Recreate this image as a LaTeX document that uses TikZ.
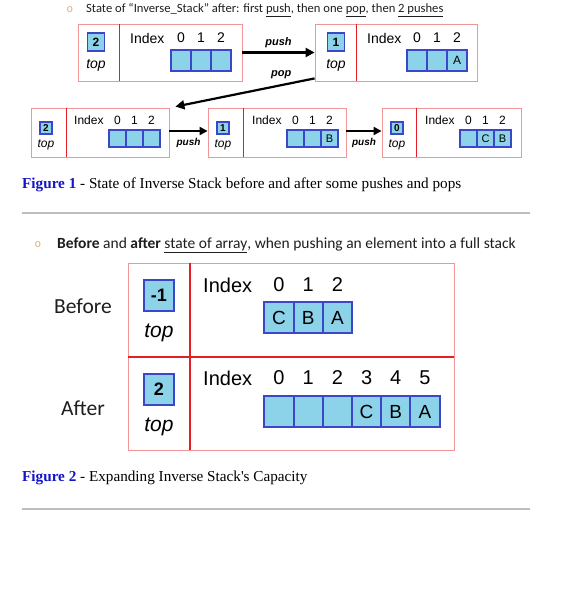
\documentclass[tikz,border=0pt]{standalone}
\usepackage{fontspec}
\setmainfont{Liberation Serif}
\setsansfont{Liberation Sans}
\setmonofont{Liberation Mono}
\newfontfamily\calibri{Carlito}
\usepackage{tikz}
\usetikzlibrary{
  arrows.meta,
  positioning,
  calc
}
\usepackage{xcolor}
\definecolor{panelpink}{RGB}{240,150,150}
\definecolor{divred}{RGB}{228,30,40}
\definecolor{cellblue}{RGB}{140,210,232}
\definecolor{cellborder}{RGB}{60,70,200}
\definecolor{figblue}{RGB}{20,20,200}
\definecolor{rulegray}{RGB}{190,190,190}
\definecolor{bullettan}{RGB}{222,172,122}
\definecolor{hdrtext}{RGB}{30,30,30}

\begin{document}
\begin{tikzpicture}[
  x=1pt, y=-1pt,
  panel/.style={draw=panelpink, line width=0.8pt, inner sep=0pt},
  divider/.style={draw=divred, line width=#1},
  topbox/.style={draw=cellborder, fill=cellblue, line width=1.3pt, inner sep=0pt, font=\sffamily\bfseries\fontsize{#1}{#1}\selectfont},
  cell/.style={draw=cellborder, fill=cellblue, line width=1.3pt, inner sep=0pt, font=\sffamily\fontsize{#1}{#1}\selectfont},
  toplbl/.style={inner sep=0pt, font=\sffamily\itshape\fontsize{#1}{#1}\selectfont},
  idx/.style={inner sep=0pt, font=\sffamily\fontsize{#1}{#1}\selectfont},
  arr/.style={-{Triangle[length=#1,width=#1]}, line width=2.2pt},
  alabel/.style={inner sep=1pt, font=\sffamily\bfseries\itshape\fontsize{#1}{#1}\selectfont},
  caption/.style={anchor=west, inner sep=0pt, font=\fontsize{15.2}{17}\selectfont},
  hdr/.style={anchor=west, inner sep=0pt, text=hdrtext, font=\calibri\fontsize{#1}{#1}\selectfont},
  bullet/.style={inner sep=0pt, text=bullettan, font=\ttfamily\fontsize{11}{11}\selectfont},
  sidelbl/.style={inner sep=0pt, text=hdrtext, font=\calibri\fontsize{21.5}{22}\selectfont},
  rule/.style={draw=rulegray, line width=2pt}
]
  \useasboundingbox (0,0) rectangle (580,603);

  % Figure 1 heading
  \node[bullet] (b1) at (70,10) {o};
  \node[hdr=12.6] (h1) at (86,10) {State of “Inverse\_Stack” after: first \underline{push}, then one \underline{pop}, then \underline{2 pushes}};

  % first row: top = 2, then push
  \node[panel, minimum width=164pt, minimum height=57pt] (s1) at (160,52.5) {};
  \draw[divider=1.2pt] ($(s1.north west)+(42,0)$) -- ($(s1.south west)+(42,0)$);
  \node[topbox=12, minimum width=17pt, minimum height=18pt] (s1top) at (96,42) {2};
  \node[toplbl=14] (s1lbl) at (96,65) {top};
  \node[idx=14, anchor=west] (s1idx) at (130,38) {Index};
  \foreach \v [count=\i from 0] in {{},{},{}} {
    \node[idx=14] (s1d\i) at (181+20*\i,38) {\i};
    \node[cell=12, minimum width=20pt, minimum height=21pt] (s1c\i) at (181+20*\i,60.5) {\v};
  }

  \node[panel, minimum width=162pt, minimum height=57pt] (s2) at (396,52.5) {};
  \draw[divider=1.2pt] ($(s2.north west)+(42,0)$) -- ($(s2.south west)+(42,0)$);
  \node[topbox=12, minimum width=17pt, minimum height=18pt] (s2top) at (336,42) {1};
  \node[toplbl=14] (s2lbl) at (336,65) {top};
  \node[idx=14, anchor=west] (s2idx) at (367,38) {Index};
  \foreach \v [count=\i from 0] in {{},{},A} {
    \node[idx=14] (s2d\i) at (417+20*\i,38) {\i};
    \node[cell=12, minimum width=20pt, minimum height=21pt] (s2c\i) at (417+20*\i,60.5) {\v};
  }

  % second row: pop, then two pushes
  \node[panel, minimum width=138pt, minimum height=49pt] (r1) at (100,132.5) {};
  \draw[divider=1pt] ($(r1.north west)+(36,0)$) -- ($(r1.south west)+(36,0)$);
  \node[topbox=10, minimum width=12pt, minimum height=12pt] (r1top) at (46,128) {2};
  \node[toplbl=12] (r1lbl) at (46,145) {top};
  \node[idx=12, anchor=west] (r1idx) at (74,120) {Index};
  \foreach \v [count=\i from 0] in {{},{},{}} {
    \node[idx=12] (r1d\i) at (117.5+17*\i,120) {\i};
    \node[cell=11, minimum width=17pt, minimum height=17pt] (r1c\i) at (117.5+17*\i,138.5) {\v};
  }

  \node[panel, minimum width=138pt, minimum height=49pt] (r2) at (277,132.5) {};
  \draw[divider=1pt] ($(r2.north west)+(36,0)$) -- ($(r2.south west)+(36,0)$);
  \node[topbox=10, minimum width=12pt, minimum height=12pt] (r2top) at (223,128) {1};
  \node[toplbl=12] (r2lbl) at (223,145) {top};
  \node[idx=12, anchor=west] (r2idx) at (252,120) {Index};
  \foreach \v [count=\i from 0] in {{},{},B} {
    \node[idx=12] (r2d\i) at (295.5+17*\i,120) {\i};
    \node[cell=11, minimum width=17pt, minimum height=17pt] (r2c\i) at (295.5+17*\i,138.5) {\v};
  }

  \node[panel, minimum width=139pt, minimum height=49pt] (r3) at (451.5,132.5) {};
  \draw[divider=1pt] ($(r3.north west)+(35,0)$) -- ($(r3.south west)+(35,0)$);
  \node[topbox=10, minimum width=12pt, minimum height=12pt] (r3top) at (397,128) {0};
  \node[toplbl=12] (r3lbl) at (397,145) {top};
  \node[idx=12, anchor=west] (r3idx) at (425,120) {Index};
  \foreach \v [count=\i from 0] in {{},C,B} {
    \node[idx=12] (r3d\i) at (468.5+17*\i,120) {\i};
    \node[cell=11, minimum width=17pt, minimum height=17pt] (r3c\i) at (468.5+17*\i,138.5) {\v};
  }

  % operations
  \draw[arr=9pt] (s1.east) -- (s2.west) node[alabel=11, midway, above=3pt] {push};
  \draw[arr=9pt] ($(s2.south west)+(0,-3)$) -- ($(r1.north east)+(6,-1)$)
    node[alabel=11, pos=0.24, above=4pt] {pop};
  \draw[arr=8pt, line width=2pt] ($(r1.east)+(0,-1.5)$) -- ($(r2.west)+(0,-1.5)$)
    node[alabel=10, midway, below=5pt] {push};
  \draw[arr=8pt, line width=2pt] ($(r2.east)+(0,-1.5)$) -- ($(r3.west)+(0,-1.5)$)
    node[alabel=10, midway, below=5pt] {push};

  \node[caption] (cap1) at (22,185) {\textcolor{figblue}{\textbf{Figure 1}} - State of Inverse Stack before and after some pushes and pops};
  \draw[rule] (22,213) -- (530,213);

  % Figure 2 heading
  \node[bullet] (b2) at (38,245) {o};
  \node[hdr=15.5] (h2) at (57,245) {\textbf{Before} and \textbf{after} \underline{state of array}, when pushing an element into a full stack};

  % before / after a full push
  \node[panel, minimum width=326pt, minimum height=187pt] (big) at (291,356.5) {};
  \draw[divider=2pt] ($(big.north west)+(62,0)$) -- ($(big.south west)+(62,0)$);
  \draw[divider=2pt] (big.west) -- (big.east);

  \node[sidelbl] (lbefore) at (83,306) {Before};
  \node[topbox=18, minimum width=30pt, minimum height=31pt, line width=2pt] (btop) at (159,295.5) {-1};
  \node[toplbl=21] (blbl) at (159,333) {top};
  \node[idx=20, anchor=west] (bidx) at (203,285) {Index};
  \foreach \v [count=\i from 0] in {C,B,A} {
    \node[idx=20] (bd\i) at (279+29.2*\i,285) {\i};
    \node[cell=19, minimum width=29.2pt, minimum height=31pt, line width=2pt] (bc\i) at (279+29.2*\i,317.5) {\v};
  }

  \node[sidelbl] (lafter) at (83,408) {After};
  \node[topbox=18, minimum width=30pt, minimum height=31pt, line width=2pt] (atop) at (159,389.5) {2};
  \node[toplbl=21] (albl) at (159,427) {top};
  \node[idx=20, anchor=west] (aidx) at (203,378) {Index};
  \foreach \v [count=\i from 0] in {{},{},{},C,B,A} {
    \node[idx=20] (ad\i) at (279+29.2*\i,378) {\i};
    \node[cell=19, minimum width=29.2pt, minimum height=31pt, line width=2pt] (ac\i) at (279+29.2*\i,411.5) {\v};
  }

  \node[caption] (cap2) at (22,478) {\textcolor{figblue}{\textbf{Figure 2}} - Expanding Inverse Stack\textquotesingle s Capacity};
  \draw[rule] (22,509) -- (530,509);
\end{tikzpicture}
\end{document}
